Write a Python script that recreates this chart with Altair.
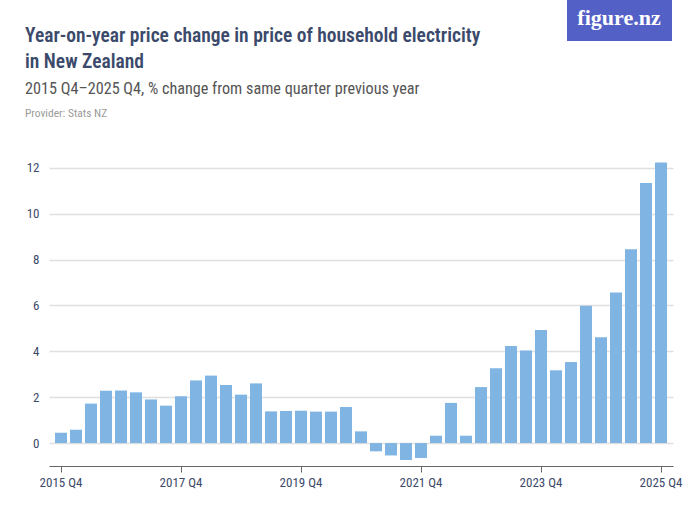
import altair as alt
import pandas as pd

# Quarterly year-on-year % change, household electricity prices (Stats NZ)
years = [2015] + [y for y in range(2016, 2026) for _ in range(4)]
quarters = ["Q4"] + ["Q1", "Q2", "Q3", "Q4"] * 10
values = [
    0.45, 0.58, 1.72, 2.28, 2.29, 2.21, 1.90, 1.63, 2.04, 2.73,
    2.94, 2.53, 2.11, 2.60, 1.38, 1.40, 1.41, 1.37, 1.37, 1.57,
    0.51, -0.36, -0.54, -0.74, -0.65, 0.32, 1.75, 0.32, 2.44, 3.26,
    4.23, 4.03, 4.93, 3.17, 3.53, 5.98, 4.61, 6.56, 8.45, 11.33,
    12.23,
]
tick_labels = ["2015 Q4", "2017 Q4", "2019 Q4", "2021 Q4", "2023 Q4", "2025 Q4"]
y_ticks = [0, 2, 4, 6, 8, 10, 12]

title_lines = ["Year-on-year price change in price of household electricity", "in New Zealand"]
subtitle = "2015 Q4–2025 Q4, % change from same quarter previous year"
provider_text = "Provider: Stats NZ"
logo_word = "figure.nz"

periods = [f"{y} {q}" for y, q in zip(years, quarters)]
df = pd.DataFrame({"period": periods, "value": values})

FONT = "Roboto Condensed"
TEXT_DARK = "#3b4a6b"

bars = alt.Chart(df).mark_bar(color="#7fb4e3").encode(
    x=alt.X(
        "period:N",
        sort=periods,
        scale=alt.Scale(paddingInner=0.2, paddingOuter=0.4),
        axis=alt.Axis(
            title=None,
            values=tick_labels,
            labelAngle=0,
            labelFont=FONT,
            labelFontSize=13,
            labelColor=TEXT_DARK,
            labelPadding=4,
            tickColor="#666666",
            tickSize=6,
            domainColor="#666666",
            grid=False,
        ),
    ),
    y=alt.Y(
        "value:Q",
        scale=alt.Scale(domain=[-1, 12.25], nice=False, zero=False),
        axis=alt.Axis(
            title=None,
            values=y_ticks,
            labelFont=FONT,
            labelFontSize=13,
            labelColor=TEXT_DARK,
            labelPadding=10,
            domain=False,
            ticks=False,
            gridColor="#e0e0e0",
            gridWidth=1.4,
        ),
    ),
)


def text_layer(text, x, y, **style):
    return alt.Chart(pd.DataFrame({"t": [text]})).mark_text(
        baseline="alphabetic", **style
    ).encode(text="t:N", x=alt.value(x), y=alt.value(y))


title1 = text_layer(title_lines[0], -24, -120, align="left", font=FONT,
                    fontSize=19.5, fontWeight=600, color=TEXT_DARK)
title2 = text_layer(title_lines[1], -24, -94, align="left", font=FONT,
                    fontSize=19.5, fontWeight=600, color=TEXT_DARK)
sub = text_layer(subtitle, -24, -68, align="left", font=FONT,
                 fontSize=16.2, color="#555555")
provider = text_layer(provider_text, -24, -45, align="left", font=FONT,
                      fontSize=11.5, color="#9a9a9a")

logo_box = alt.Chart(pd.DataFrame({"t": ["box"]})).mark_rect(color="#5361c6").encode(
    x=alt.value(518), x2=alt.value(623), y=alt.value(-162), y2=alt.value(-121)
)
logo_text = text_layer(logo_word, 570, -137, align="center", font="Liberation Serif",
                       fontSize=22, fontWeight="bold", color="white")

chart = (
    alt.layer(bars, title1, title2, sub, provider, logo_box, logo_text)
    .properties(
        width=624,
        height=304,
        autosize="none",
        padding={"left": 49, "top": 162, "right": 27, "bottom": 59},
    )
    .configure(background="white")
    .configure_view(stroke=None)
)

chart.save("out.html", embed_options={"renderer": "svg", "actions": False})
